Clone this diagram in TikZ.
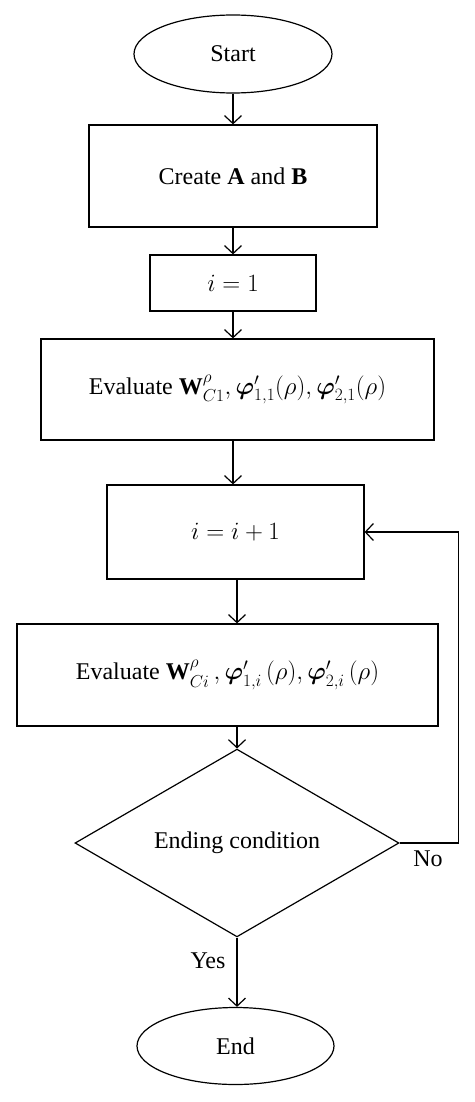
\documentclass[tikz,border=0pt]{standalone}
\usepackage{amsmath}
\usepackage{fontspec}
\setmainfont{Liberation Serif}
\usetikzlibrary{shapes.geometric,arrows.meta}

\tikzset{
  caixa/.style={draw, line width=1.2pt, rectangle, inner sep=0pt},
  terminal/.style={draw, line width=1.2pt, ellipse, inner sep=0pt},
  decisao/.style={draw, line width=1.2pt, diamond, inner sep=0pt},
  seta/.style={line width=1.2pt, -{Straight Barb[length=8pt,width=17pt]}},
  rotulo/.style={inner sep=0pt}
}

\begin{document}
\begin{tikzpicture}[x=1pt, y=-1pt, font=\fontsize{24}{29}\selectfont]
			\useasboundingbox (0,0) rectangle (474,1102);

			% Inicio e criacao das matrizes
			\node[terminal, minimum width=198pt, minimum height=78pt] (start) at (233,54) {Start};
			\node[caixa, minimum width=288pt, minimum height=102pt] (create) at (233,176) {Create \textbf{A} and \textbf{B}};
			\node[caixa, minimum width=166pt, minimum height=56pt] (init) at (233,283) {$i = 1$};

			% Primeira avaliacao
			\node[caixa, minimum width=393pt, minimum height=101pt] (evalone) at (237.5,389.5)
				{Evaluate $\mathbf{W}^{\rho}_{C1}, \boldsymbol{\varphi}'_{1,1}(\rho), \boldsymbol{\varphi}'_{2,1}(\rho)$};

			% Laco de repeticao
			\node[caixa, minimum width=257pt, minimum height=94pt] (incr) at (235.5,532) {$i = i + 1$};
			\node[caixa, minimum width=421pt, minimum height=102pt] (evaltwo) at (227.5,675)
				{Evaluate $\mathbf{W}^{\rho}_{Ci}\,, \boldsymbol{\varphi}'_{1,i}\,(\rho), \boldsymbol{\varphi}'_{2,i}\,(\rho)$};
			\node[decisao, minimum width=324pt, minimum height=145pt] (cond) at (237,843) {Ending condition};
			\node[terminal, minimum width=197pt, minimum height=77pt] (finish) at (235.5,1046) {End};

			% Rotulos das saidas
			\node[rotulo] (lblno) at (428,859) {No};
			\node[rotulo] (lblyes) at (208,961) {Yes};

			% Setas
			\draw[seta] (start) -- (create);
			\draw[seta] (create) -- (init);
			\draw[seta] (init.south) -- (evalone.north -| init.south);
			\draw[seta] (evalone.south -| init.south) -- (incr.north -| init.south);
			\draw[seta] (incr.south -| cond.north) -- (evaltwo.north -| cond.north);
			\draw[seta] (evaltwo.south -| cond.north) -- (cond.north);
			\draw[seta] (cond.south) -- (finish.north -| cond.south);
			\draw[seta] (cond.east) -- ++(59,0) |- (incr.east);
		\end{tikzpicture}
\end{document}
